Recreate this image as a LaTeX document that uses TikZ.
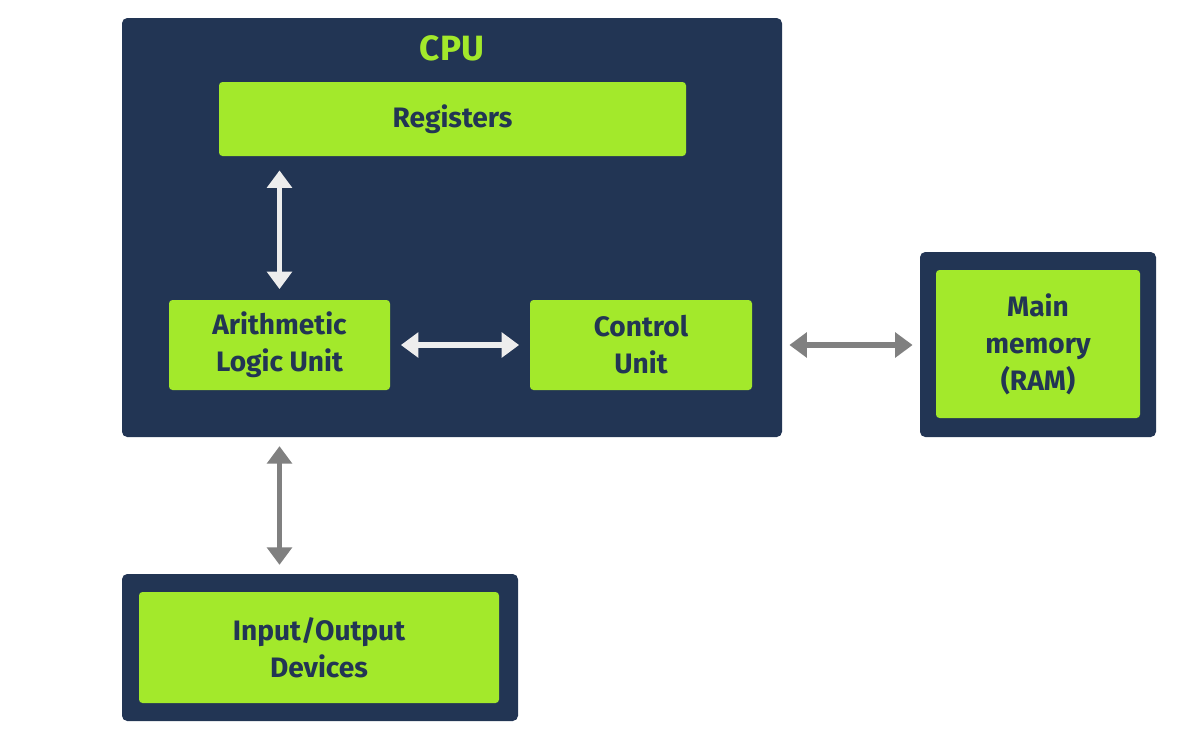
\documentclass[tikz,border=0pt]{standalone}
\usepackage{fontspec}
\setmainfont{Fira Sans}
\usetikzlibrary{arrows.meta}
\definecolor{navy}{HTML}{223554}
\definecolor{lime}{HTML}{A3E92B}
\definecolor{link}{HTML}{808080}
\definecolor{inner}{HTML}{EDEDED}
\tikzset{
  outer/.style={fill=navy, rounded corners=3pt, inner sep=0pt},
  unit/.style={fill=lime, rounded corners=2pt, inner sep=0pt, align=center,
    text=navy, font=\fontsize{16}{21}\selectfont\bfseries},
  both/.style={{Triangle[length=10pt,width=14pt]}-{Triangle[length=10pt,width=14pt]}, line width=3pt, shorten <=4pt, shorten >=4pt}
}
\begin{document}
\begin{tikzpicture}[x=0.02cm, y=-0.02cm]
\useasboundingbox (0,0) rectangle (1200,731);
% boxes
\node[outer, minimum width=660*0.02cm, minimum height=419*0.02cm] (cpu) at (452,227.5) {};
\node[text=lime, font=\fontsize{20}{24}\selectfont\bfseries] (cpulabel) at (452,48) {CPU};
\node[unit, minimum width=467*0.02cm, minimum height=74*0.02cm] (reg) at (452.5,119) {Registers};
\node[unit, minimum width=221*0.02cm, minimum height=90*0.02cm] (alu) at (279.5,345) {Arithmetic\\Logic Unit};
\node[unit, minimum width=222*0.02cm, minimum height=90*0.02cm] (cu) at (641,345) {Control\\Unit};
\node[outer, minimum width=236*0.02cm, minimum height=185*0.02cm] (ram) at (1038,344.5) {};
\node[unit, minimum width=204*0.02cm, minimum height=148*0.02cm] (mem) at (1038,344) {Main\\memory\\(RAM)};
\node[outer, minimum width=396*0.02cm, minimum height=147*0.02cm] (io) at (320,647.5) {};
\node[unit, minimum width=360*0.02cm, minimum height=111*0.02cm] (dev) at (319,647.5) {Input/Output\\Devices};
% connectors
\draw[both, draw=inner, shorten <=8pt, shorten >=6pt] (reg.south -| alu) -- (alu.north);
\draw[both, draw=inner, shorten <=6pt, shorten >=6pt] (alu.east) -- (cu.west);
\draw[both, draw=link] (cpu.east |- cu) -- (ram.west |- cu);
\draw[both, draw=link, shorten <=5pt, shorten >=5pt] (cpu.south -| alu) -- (io.north -| alu);
\end{tikzpicture}
\end{document}
